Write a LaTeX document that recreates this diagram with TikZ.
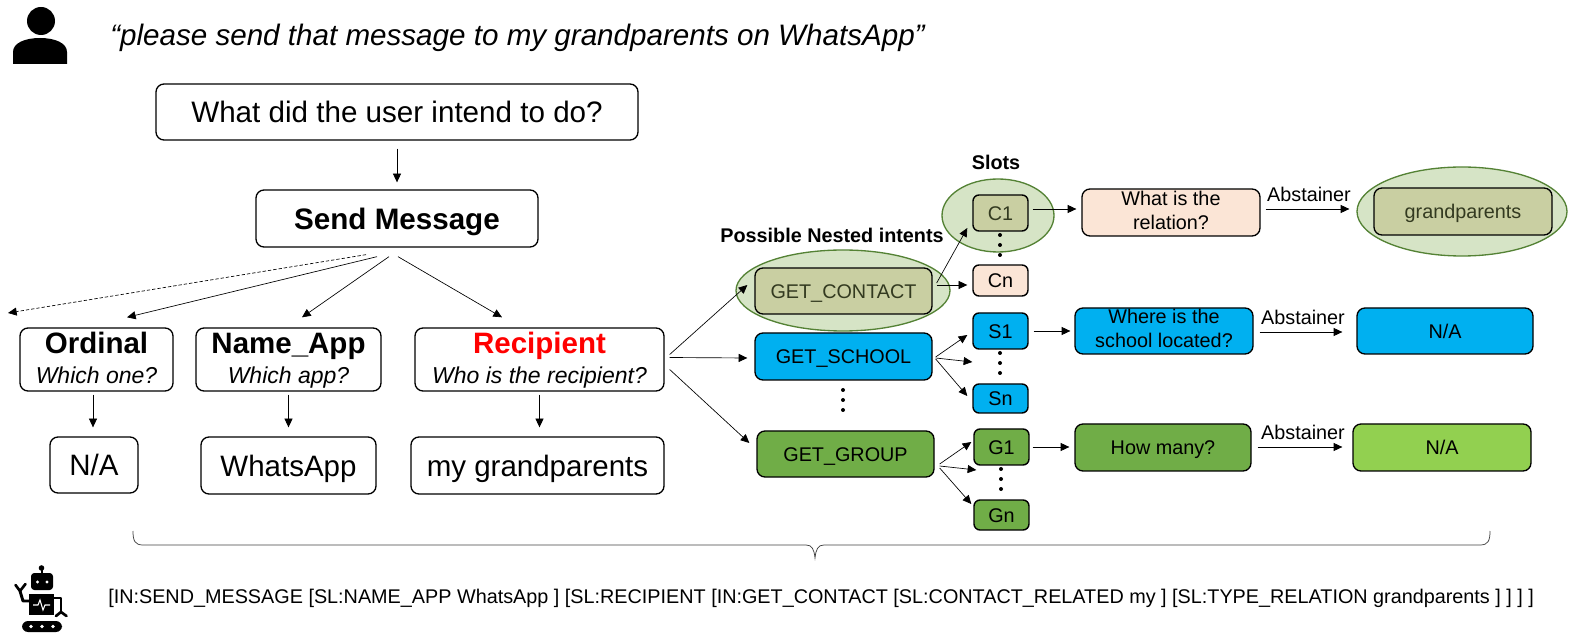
\documentclass[tikz,border=0pt]{standalone}
\usepackage{fontspec}
\setmainfont{Liberation Sans}
\usetikzlibrary{arrows.meta,shapes.geometric}
\definecolor{peach}{HTML}{FBE5D6}
\definecolor{skyb}{HTML}{00B0F0}
\definecolor{grn}{HTML}{70AD47}
\definecolor{lgrn}{HTML}{92D050}
\definecolor{ellfill}{HTML}{D6E4C6}
\definecolor{ellline}{HTML}{548235}
\definecolor{olive}{HTML}{C9CFA2}
\definecolor{olivetext}{HTML}{333A20}
\newcommand\pxf[1]{\pgfmathsetmacro\fszv{#1*0.75}\pgfmathsetmacro\fszb{#1*0.75*1.25}\fontsize{\fszv pt}{\fszb pt}\selectfont}
% one line of text, capitals centred on the node's centre
\newcommand\capline[2]{\pgfmathsetmacro\rrv{#1*0.75*0.36}\raisebox{-\rrv pt}[0pt][0pt]{\pxf{#1}#2}}
\newcommand\bx[7]{%
  \pgfmathsetmacro\bw{(#4-#2)*0.75}\pgfmathsetmacro\bh{(#5-#3)*0.75}%
  \node[#6,minimum width=\bw pt,minimum height=\bh pt] (#1) at ({(#2+#4)/2},{(#3+#5)/2}) {#7};}
\tikzset{
  box/.style={draw=black,line width=1pt,rounded corners=6pt,inner sep=0pt,align=center,fill=white},
  twoline/.style={box,inner ysep=-8pt},
  tinybox/.style={box,rounded corners=4.5pt,line width=1.05pt},
  arr/.style={-{Triangle[length=6.5pt,width=6pt]},line width=0.5pt,black},
  ell/.style={ellipse,draw=ellline,line width=1pt,fill=ellfill,inner sep=0pt},
  dotm/.style={circle,fill=black,inner sep=0pt,minimum size=3pt},
  lab/.style={inner sep=0pt,align=center},
  bic/.style={fill=black,draw=none},
}
\begin{document}
\begin{tikzpicture}[x=0.75pt,y=-0.75pt]
\useasboundingbox (0,0) rectangle (1571,641);
% user icon
\fill[bic] (41,21) ellipse [x radius=14,y radius=14];
\fill[bic] (13,64) -- (13,52) .. controls (13,43) and (25,38) .. (40,38) .. controls (55,38) and (67,43) .. (67,52) -- (67,64) -- cycle;
\node[lab,anchor=west] (quote) at (110,38) {\pxf{29.6}\itshape “please send that message to my grandparents on WhatsApp”};
% main boxes
\bx{top}{156}{84}{638}{140}{box}{\capline{29.6}{What did the user intend to do?}}
\bx{send}{256}{190}{538}{247}{box}{\capline{29.6}{\bfseries Send Message}}
\bx{ord}{20}{328}{173}{391}{twoline}{\pxf{29.5}\bfseries\strut Ordinal\\[-2pt]\pxf{23}\itshape\strut Which one?}
\bx{nam}{196}{328}{381}{391}{twoline}{\pxf{29.5}\bfseries\strut Name\_App\\[-2pt]\pxf{23}\itshape\strut Which app?}
\bx{rec}{415}{328}{664}{391}{twoline}{\pxf{29.5}\bfseries\color{red}\strut Recipient\\[-2pt]\pxf{23}\itshape\strut Who is the recipient?}
\bx{na0}{50}{437}{138}{493}{box}{\capline{29.5}{N/A}}
\bx{wa}{201}{437}{376}{494}{box}{\capline{29.5}{WhatsApp}}
\bx{gp}{411}{437}{664}{494}{box}{\capline{29.5}{my grandparents}}
% ellipses
\node[ell,minimum width=160.5pt,minimum height=60.75pt] (ellc) at (843,290.5) {};
\node[ell,minimum width=84pt,minimum height=54.75pt] (ells) at (998,215.5) {};
\node[ell,minimum width=157.5pt,minimum height=66.75pt] (ellg) at (1462,211.5) {};
% heads
\node[lab] (slots) at (996,162) {\pxf{19.8}\bfseries Slots};
\node[lab] (nest) at (832,235) {\pxf{19.8}\bfseries Possible Nested intents};
% contact row
\bx{gc}{755}{268}{932}{314}{box,fill=olive,text=olivetext}{\capline{19.8}{GET\_CONTACT}}
\bx{c1}{973}{195}{1028}{231}{tinybox,fill=olive,text=olivetext}{\capline{19.8}{C1}}
\bx{cn}{973}{265}{1028}{296}{tinybox,fill=peach}{\capline{19.8}{Cn}}
\bx{rel}{1082}{189}{1260}{236}{twoline,fill=peach}{\pxf{19.8}\strut What is the\\[-1.5pt]\pxf{19.8}\strut relation?}
\bx{gpa}{1374}{188}{1552}{235}{box,fill=olive,text=olivetext}{\capline{19.8}{grandparents}}
\node[lab] (ab1) at (1309,194) {\pxf{19.8}Abstainer};
% school row
\bx{gs}{755}{333}{932}{380}{box,fill=skyb}{\capline{19.8}{GET\_SCHOOL}}
\bx{s1}{973}{313}{1028}{349}{tinybox,fill=skyb}{\capline{19.8}{S1}}
\bx{sn}{973}{384}{1028}{413}{tinybox,fill=skyb}{\capline{19.8}{Sn}}
\bx{whr}{1075}{308}{1253}{354}{twoline,fill=skyb}{\pxf{19.8}\strut Where is the\\[-1.5pt]\pxf{19.8}\strut school located?}
\bx{nas}{1357}{308}{1533}{354}{box,fill=skyb}{\capline{19.8}{N/A}}
\node[lab] (ab2) at (1303,317) {\pxf{19.8}Abstainer};
% group row
\bx{gg}{757}{431}{934}{477}{box,fill=grn}{\capline{19.8}{GET\_GROUP}}
\bx{g1}{974}{429}{1029}{465}{tinybox,fill=grn}{\capline{19.8}{G1}}
\bx{gn}{974}{500}{1029}{530}{tinybox,fill=grn}{\capline{19.8}{Gn}}
\bx{hm}{1075}{424}{1251}{471}{box,fill=grn}{\capline{19.8}{How many?}}
\bx{nag}{1353}{424}{1531}{471}{box,fill=lgrn}{\capline{19.8}{N/A}}
\node[lab] (ab3) at (1303,432) {\pxf{19.8}Abstainer};
% dots
\foreach \n/\x/\y in {d1/1000/235,d2/1000/245,d3/1000/255,d4/1000/353,d5/1000/363,d6/1000/373,d7/1001/469,d8/1001/479,d9/1001/489,d10/843/390,d11/843/400,d12/843/410}
  \node[dotm] (\n) at (\x,\y) {};
% connectors
\draw[arr] ([shift={(0,8)}]top.south) -- ([shift={(0,-7)}]send.north);
\coordinate (freeL) at (8,313);
\draw[arr,dash pattern=on 2.5pt off 1.5pt] ([shift={(-31,7)}]send.south) -- (freeL);
\draw[arr] ([shift={(-20,9)}]send.south) -- ([shift={(30.5,-10)}]ord.north);
\draw[arr] ([shift={(-8,9)}]send.south) -- ([shift={(13.5,-10)}]nam.north);
\draw[arr] ([shift={(1,9)}]send.south) -- ([shift={(-37.5,-10)}]rec.north);
\draw[arr] ([shift={(-3.5,3)}]ord.south) -- ([shift={(-1,-9)}]na0.north);
\draw[arr] ([shift={(0,3)}]nam.south) -- ([shift={(0,-9)}]wa.north);
\draw[arr] ([shift={(0,3)}]rec.south) -- ([shift={(2,-9)}]gp.north);
\draw[arr] ([shift={(5,-5)}]rec.east) -- ([shift={(-7,-6)}]gc.west);
\draw[arr] ([shift={(5,-2)}]rec.east) -- ([shift={(-7,1.5)}]gs.west);
\draw[arr] ([shift={(5,10)}]rec.east) -- ([shift={(-7,-11)}]gg.west);
\draw[arr] ([shift={(4,-8)}]gc.east) -- ([shift={(-5,15)}]c1.west);
\draw[arr] ([shift={(4,-6)}]gc.east) -- ([shift={(-5,4.5)}]cn.west);
\draw[arr] ([shift={(3,0.5)}]gs.east) -- ([shift={(-5,4)}]s1.west);
\draw[arr] ([shift={(3,1.5)}]gs.east) -- ([shift={(0,-36.5)}]sn.west);
\draw[arr] ([shift={(3,2.5)}]gs.east) -- ([shift={(-5,-2.5)}]sn.west);
\draw[arr] ([shift={(5,10)}]gg.east) -- ([shift={(-2,-5)}]g1.west);
\draw[arr] ([shift={(5,12)}]gg.east) -- ([shift={(3,-45)}]gn.west);
\draw[arr] ([shift={(5,14)}]gg.east) -- ([shift={(-2,-11)}]gn.west);
\draw[arr] ([shift={(4,-4)}]c1.east) -- ([shift={(-5,-3.5)}]rel.west);
\draw[arr] ([shift={(5,-3.5)}]rel.east) -- ([shift={(-24,-2.5)}]gpa.west);
\draw[arr] ([shift={(5,0)}]s1.east) -- ([shift={(-4,0)}]whr.west);
\draw[arr] ([shift={(6,1)}]whr.east) -- ([shift={(-14,1)}]nas.west);
\draw[arr] ([shift={(3,0)}]g1.east) -- ([shift={(-5,-0.5)}]hm.west);
\draw[arr] ([shift={(6,-0.5)}]hm.east) -- ([shift={(-10,-0.5)}]nag.west);
% brace
\coordinate (brL) at (133,531);
\coordinate (brR) at (1490,531);
\coordinate (brT) at (815,558);
\draw[line width=0.55pt,black!75] (brL) .. controls (133,541) and (135,545) .. (143,545) -- (806,545) .. controls (812,545) and (814,549) .. (brT) .. controls (816,549) and (818,545) .. (824,545) -- (1480,545) .. controls (1488,545) and (1490,541) .. (brR);
% robot icon
\fill[bic] (41.5,568) circle (2.8);
\fill[bic] (40.5,568) rectangle (42.5,574);
\fill[bic,rounded corners=2.5pt] (31,573) rectangle (53,590);
\fill[white] (37.5,582) circle (1.6) (47,582) circle (1.6);
\fill[bic] (29,594) rectangle (54,615);
\draw[white,line width=0.8pt] (33,605) -- (38,605) -- (40,600) -- (43,610) -- (45,605) -- (50,605);
\fill[bic,rounded corners=4.5pt] (22,621) rectangle (62,632);
\fill[white] (31,626.5) circle (1.8) (42,626.5) circle (1.8) (53,626.5) circle (1.8);
\draw[black,line width=2.2pt,line join=round] (29,601) -- (23,601) -- (20,591);
\draw[black,line width=2pt,line cap=round] (20,591) -- (15.5,585) (20,591) -- (25.5,584);
\draw[black,line width=2.2pt,line join=round] (54,598) -- (61,598) -- (61,612);
\draw[black,line width=2pt,line cap=round] (61,612) -- (56,616) (61,612) -- (66.5,616);
\node[lab,anchor=west] (parse) at (108,598) {\pxf{19.8}[IN:SEND\_MESSAGE [SL:NAME\_APP WhatsApp ] [SL:RECIPIENT [IN:GET\_CONTACT [SL:CONTACT\_RELATED my ] [SL:TYPE\_RELATION grandparents ] ] ] ]};
\end{tikzpicture}
\end{document}
